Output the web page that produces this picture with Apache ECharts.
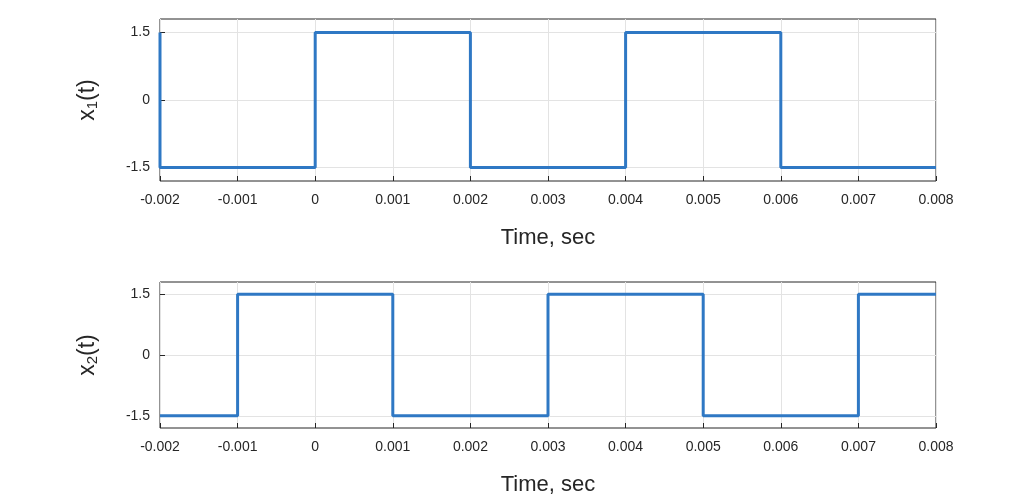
<!DOCTYPE html>
<html>
<head>
<meta charset="utf-8">
<script src="https://cdn.jsdelivr.net/npm/echarts@6/dist/echarts.min.js"></script>
<style>html,body{margin:0;background:#fff}#main{width:1024px;height:497px}</style>
</head>
<body>
<div id="main"></div>
<script>
// signal 1: time points and levels (square wave corners)
var t1 = [-0.002, -0.002, 0, 0, 0.002, 0.002, 0.004, 0.004, 0.006, 0.006, 0.008];
var v1 = [1.5, -1.5, -1.5, 1.5, 1.5, -1.5, -1.5, 1.5, 1.5, -1.5, -1.5];
// signal 2
var t2 = [-0.002, -0.001, -0.001, 0.001, 0.001, 0.003, 0.003, 0.005, 0.005, 0.007, 0.007, 0.008];
var v2 = [-1.5, -1.5, 1.5, 1.5, -1.5, -1.5, 1.5, 1.5, -1.5, -1.5, 1.5, 1.5];
var yTicks = [-1.5, 0, 1.5];

function pairs(t, v) {
    var out = [];
    for (var i = 0; i < t.length; i++) out.push([t[i], v[i]]);
    return out;
}

var font = 'Liberation Sans, Arial, sans-serif';
function xAxis(idx, name) {
    return {
        gridIndex: idx, type: 'value', min: -0.002, max: 0.008, interval: 0.001,
        name: name, nameLocation: 'middle', nameGap: 46,
        nameTextStyle: { fontFamily: font, fontSize: 22, color: '#262626' },
        axisLine: { show: false, onZero: false },
        axisTick: { show: true, inside: true, length: 5, lineStyle: { color: '#262626' } },
        axisLabel: {
            fontFamily: font, fontSize: 14, color: '#262626', margin: 12,
            formatter: function (v) { return Math.abs(v) < 1e-9 ? '0' : v.toFixed(3); }
        },
        splitLine: { show: true, lineStyle: { color: '#e3e3e3' } }
    };
}
function yAxis(idx, sub) {
    return {
        gridIndex: idx, type: 'value', min: -1.8, max: 1.8,
        name: '{a|x}{b|' + sub + '}{a|(t)}', nameLocation: 'middle', nameGap: 60, nameRotate: 90,
        nameTextStyle: { rich: {
            a: { fontFamily: font, fontSize: 23, color: '#262626' },
            b: { fontFamily: font, fontSize: 15, color: '#262626', verticalAlign: 'bottom', padding: [10, 0, 0, 0] }
        } },
        axisLine: { show: false, onZero: false },
        axisTick: { show: true, inside: true, length: 5, customValues: yTicks, lineStyle: { color: '#262626' } },
        axisLabel: { fontFamily: font, fontSize: 14, color: '#262626', customValues: yTicks, margin: 10 },
        splitLine: { show: true, lineStyle: { color: '#e3e3e3' } }
    };
}
function series(idx, data) {
    return {
        type: 'line', xAxisIndex: idx, yAxisIndex: idx, data: data, showSymbol: false,
        lineStyle: { color: '#2f78c4', width: 3 }, animation: false
    };
}

var chart = echarts.init(document.getElementById('main'));
chart.setOption({
    animation: false,
    grid: [
        { left: 160, right: 88, top: 19, height: 162, show: true, borderColor: '#262626', borderWidth: 1 },
        { left: 160, right: 88, top: 282, height: 160, show: true, borderColor: '#262626', borderWidth: 1 }
    ],
    xAxis: [xAxis(0, 'Time, sec'), xAxis(1, 'Time, sec')],
    yAxis: [yAxis(0, '1'), yAxis(1, '2')],
    series: [series(0, pairs(t1, v1)), series(1, pairs(t2, v2))]
});
</script>
</body>
</html>
